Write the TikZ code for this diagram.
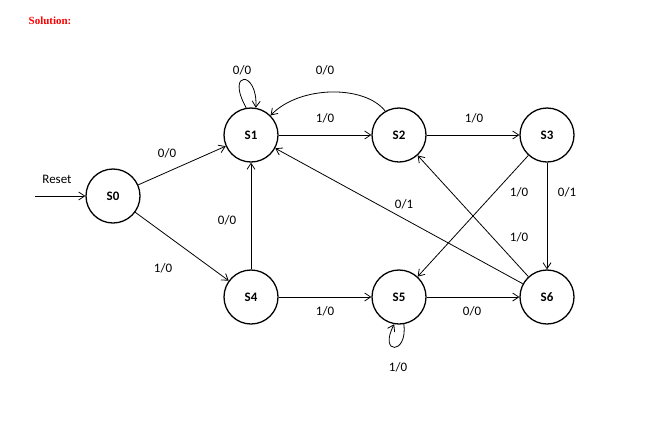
\documentclass[tikz,border=0pt]{standalone}
\usepackage{fontspec}
\setmainfont{Carlito}
\usetikzlibrary{arrows.meta}
\begin{document}
\begin{tikzpicture}[x=1bp,y=-1bp,
 st/.style={circle,draw,line width=1.3pt,minimum size=54bp,inner sep=0pt,font=\bfseries\fontsize{13}{15}\selectfont},
 lb/.style={font=\fontsize{13}{15}\selectfont},
 ar/.style={-{Straight Barb[length=6bp,width=8bp]},line width=0.8pt}]
\useasboundingbox (0,0) rectangle (651,428);
\node[font=\fontfamily{ptm}\bfseries\fontsize{11}{13}\selectfont,text=red] (sol) at (50,21) {\fontspec{Liberation Serif}Solution:};
\node[st] (s0) at (113,196) {S0};
\node[st] (s1) at (251,135) {S1};
\node[st] (s2) at (399,135) {S2};
\node[st] (s3) at (547,135) {S3};
\node[st] (s4) at (251,297) {S4};
\node[st] (s5) at (399,297) {S5};
\node[st] (s6) at (547,297) {S6};
\coordinate (rs) at (35,196);
\node[lb] (rl) at (57,179) {Reset};
\draw[ar] (rs) -- (s0);
\draw[ar] (s0) -- (s1); \node[lb] at (167,153) {0/0};
\draw[ar] (s0) -- (s4); \node[lb] at (163,268) {1/0};
\draw[ar] (s1.100) .. controls (225,70) and (258,70) .. (s1.80); \node[lb] at (242,70) {0/0};
\draw[ar] (s2.120) .. controls (365,85) and (300,85) .. (s1.45); \node[lb] at (325,70) {0/0};
\draw[ar] (s1) -- (s2); \node[lb] at (325,118) {1/0};
\draw[ar] (s2) -- (s3); \node[lb] at (474,118) {1/0};
\draw[ar] (s4) -- (s1); \node[lb] at (227,220) {0/0};
\draw[ar] (s4) -- (s5); \node[lb] at (325,311) {1/0};
\draw[ar] (s5) -- (s6); \node[lb] at (472,311) {0/0};
\draw[ar] (s5.-80) .. controls (408,355) and (378,355) .. (s5.-100); \node[lb] at (398,367) {1/0};
\draw[ar] (s3) -- (s6); \node[lb] at (567,192) {0/1};
\draw[ar] (s3) -- (s5); \node[lb] at (519,192) {1/0};
\draw[ar] (s6) -- (s2); \node[lb] at (519,237) {1/0};
\draw[ar] (s6) -- (s1); \node[lb] at (404,204) {0/1};
\end{tikzpicture}
\end{document}
